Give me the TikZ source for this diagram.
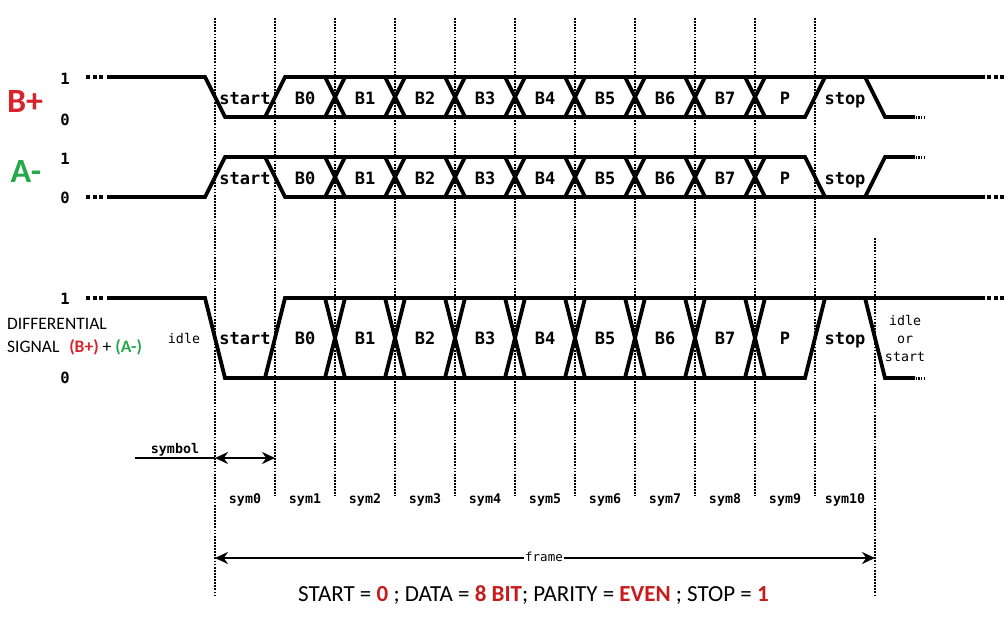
\documentclass[tikz,border=0pt]{standalone}
\usepackage{fontspec}
\setmainfont{Carlito}
\newfontfamily\monofam{DejaVu Sans Mono}
\usetikzlibrary{arrows.meta}
\definecolor{bred}{RGB}{214,36,44}
\definecolor{agreen}{RGB}{38,168,74}
\definecolor{tred}{RGB}{200,28,28}
\newcommand{\sigrow}[2]{%
  \draw[wave] (107,#1) -- (205,#1) -- (225,#2) -- (805,#2) -- (825,#1);
  \draw[wave] (265,#2) -- (285,#1) -- (985,#1);
  \foreach \b in {335,395,...,755} {
    \draw[wave] (\b-10,#1) -- (\b+10,#2);
    \draw[wave] (\b-10,#2) -- (\b+10,#1);
  }
  \draw[wave] (865,#1) -- (885,#2) -- (915,#2);
  \draw[smalldots] (915.5,#2) -- (926,#2);
  \draw[bigdots] (987,#1) -- (1006,#1);
  \draw[bigdots] (86,#1) -- (105,#1);
}
\begin{document}
\begin{tikzpicture}[x=1pt,y=-1pt,
  wave/.style={line width=3.8pt},
  gridline/.style={line width=2.2pt, dash pattern=on 1.8pt off 1.3pt, black},
  bigdots/.style={line width=4pt, dash pattern=on 4pt off 2.5pt},
  smalldots/.style={line width=3pt, dash pattern=on 1.3pt off 1.4pt},
  lbl/.style={font=\monofam\bfseries\fontsize{17}{17}\selectfont, inner sep=0pt, anchor=base},
  lvl/.style={font=\monofam\bfseries\fontsize{15.5}{15.5}\selectfont, inner sep=0pt, anchor=base},
  smallb/.style={font=\monofam\bfseries\fontsize{13.3}{13.3}\selectfont, inner sep=0pt, anchor=base},
  smallr/.style={font=\monofam\fontsize{13.3}{18}\selectfont, inner sep=0pt, anchor=base},
  sig/.style={font=\bfseries\fontsize{34}{34}\selectfont, inner sep=0pt, anchor=base},
  desc/.style={font=\fontsize{17.5}{17.5}\selectfont, inner sep=0pt, anchor=base west},
  arr/.style={line width=2pt, {Stealth[length=13pt,width=12pt]}-{Stealth[length=13pt,width=12pt]}}
]
\path[fill=white] (0,0) rectangle (1008,621);
\useasboundingbox (0,0) rectangle (1008,621);

% vertical dotted grid
\draw[gridline] (215,18) -- (215,597);
\foreach \x in {275,335,...,815} \draw[gridline] (\x,18) -- (\x,496);
\draw[gridline] (875,238) -- (875,597);

% signal rows
\sigrow{77}{117}
\sigrow{197}{157}
\sigrow{298}{378}

% labels inside waveforms
\foreach \t [count=\i from 0] in {start,B0,B1,B2,B3,B4,B5,B6,B7,P,stop} {
  \node[lbl] (bp-\i) at (245+60*\i,104) {\t};
  \node[lbl] (am-\i) at (245+60*\i,184) {\t};
  \node[lbl] (df-\i) at (245+60*\i,344.5) {\t};
}

% level labels
\node[lvl] (bp1) at (65,84) {1};
\node[lvl] (bp0) at (65,125) {0};
\node[lvl] (am1) at (65,164) {1};
\node[lvl] (am0) at (65,203.5) {0};
\node[lvl] (df1) at (65,304) {1};
\node[lvl] (df0) at (65,383.5) {0};

% signal names
\node[sig, text=bred] (bplus) at (25,112) {B+};
\node[sig, text=agreen] (aminus) at (26,182) {A-};
\node[desc] (diff1) at (7,329) {DIFFERENTIAL};
\node[desc] (diff2) at (7,352) {SIGNAL\,\, \textcolor{bred}{\bfseries(B+)} + \textcolor{agreen}{\bfseries(A-)}};

% idle labels
\node[smallr] (idle) at (184,343) {idle};
\node[smallr] (idle2) at (905,325) {idle};
\node[smallr] (or2) at (905,343) {or};
\node[smallr] (start2) at (905,361) {start};

% symbol
\coordinate (symL) at (135,458);
\coordinate (s0) at (215,458);
\coordinate (s1) at (275,458);
\draw[line width=2pt] (symL) -- (s0);
\draw[arr] (s0) -- (s1);
\node[smallb] (symbol) at (175,453) {symbol};

% sym labels
\foreach \i in {0,...,10} \node[smallb] (sym\i) at (245+60*\i,503) {sym\i};

% frame
\coordinate (f0) at (215,558);
\coordinate (f1) at (875,558);
\draw[arr] (f0) -- (f1);
\node[font=\monofam\fontsize{12.5}{12.5}\selectfont, fill=white, inner sep=1.5pt] (frame) at (544,557) {frame};

% bottom text
\node[font=\fontsize{23}{23}\selectfont, inner sep=0pt, anchor=base] (legend) at (533.5,601)
  {START = \textcolor{tred}{\bfseries 0} ; DATA = \textcolor{tred}{\bfseries 8 BIT}; PARITY = \textcolor{tred}{\bfseries EVEN} ; STOP = \textcolor{tred}{\bfseries 1}};
\end{tikzpicture}
\end{document}
